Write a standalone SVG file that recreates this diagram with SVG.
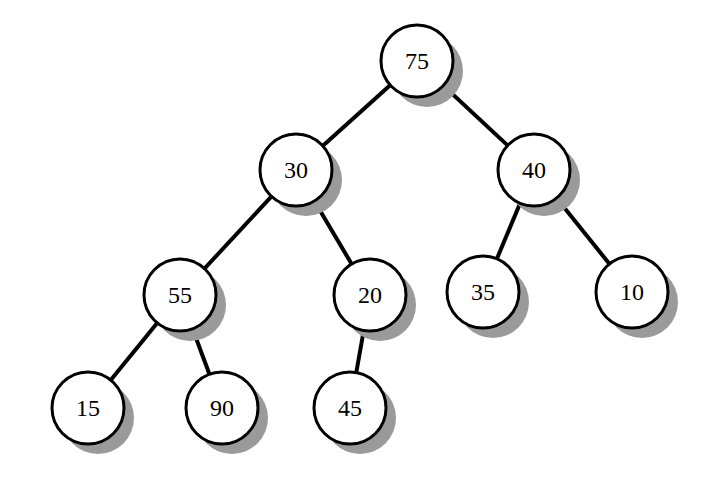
<svg xmlns="http://www.w3.org/2000/svg" width="721" height="499" viewBox="0 0 721 499">
<style>
.s{fill:#9a9a9a}
.c{fill:#fff;stroke:#000;stroke-width:3}
.t{font-family:"Liberation Serif",serif;font-size:24px;text-anchor:middle;dominant-baseline:central}
#edges line{stroke:#000;stroke-width:4}
</style>
<defs>
<g id="n"><circle class="s" cx="10" cy="10" r="36"/><circle class="c" r="36"/></g>
</defs>
<g id="edges">
<line x1="417" y1="61" x2="296" y2="170"/>
<line x1="417" y1="61" x2="534" y2="170"/>
<line x1="296" y1="170" x2="180" y2="295"/>
<line x1="296" y1="170" x2="370" y2="295"/>
<line x1="534" y1="170" x2="483" y2="292"/>
<line x1="534" y1="170" x2="632" y2="292"/>
<line x1="180" y1="295" x2="88" y2="408"/>
<line x1="180" y1="295" x2="222" y2="408"/>
<line x1="370" y1="295" x2="350" y2="408"/>
</g>
<g id="n75"><use href="#n" x="417" y="61"/><text class="t" x="417" y="61">75</text></g>
<g id="n30"><use href="#n" x="296" y="170"/><text class="t" x="296" y="170">30</text></g>
<g id="n40"><use href="#n" x="534" y="170"/><text class="t" x="534" y="170">40</text></g>
<g id="n55"><use href="#n" x="180" y="295"/><text class="t" x="180" y="295">55</text></g>
<g id="n20"><use href="#n" x="370" y="295"/><text class="t" x="370" y="295">20</text></g>
<g id="n35"><use href="#n" x="483" y="292"/><text class="t" x="483" y="292">35</text></g>
<g id="n10"><use href="#n" x="632" y="292"/><text class="t" x="632" y="292">10</text></g>
<g id="n15"><use href="#n" x="88" y="408"/><text class="t" x="88" y="408">15</text></g>
<g id="n90"><use href="#n" x="222" y="408"/><text class="t" x="222" y="408">90</text></g>
<g id="n45"><use href="#n" x="350" y="408"/><text class="t" x="350" y="408">45</text></g>
</svg>
